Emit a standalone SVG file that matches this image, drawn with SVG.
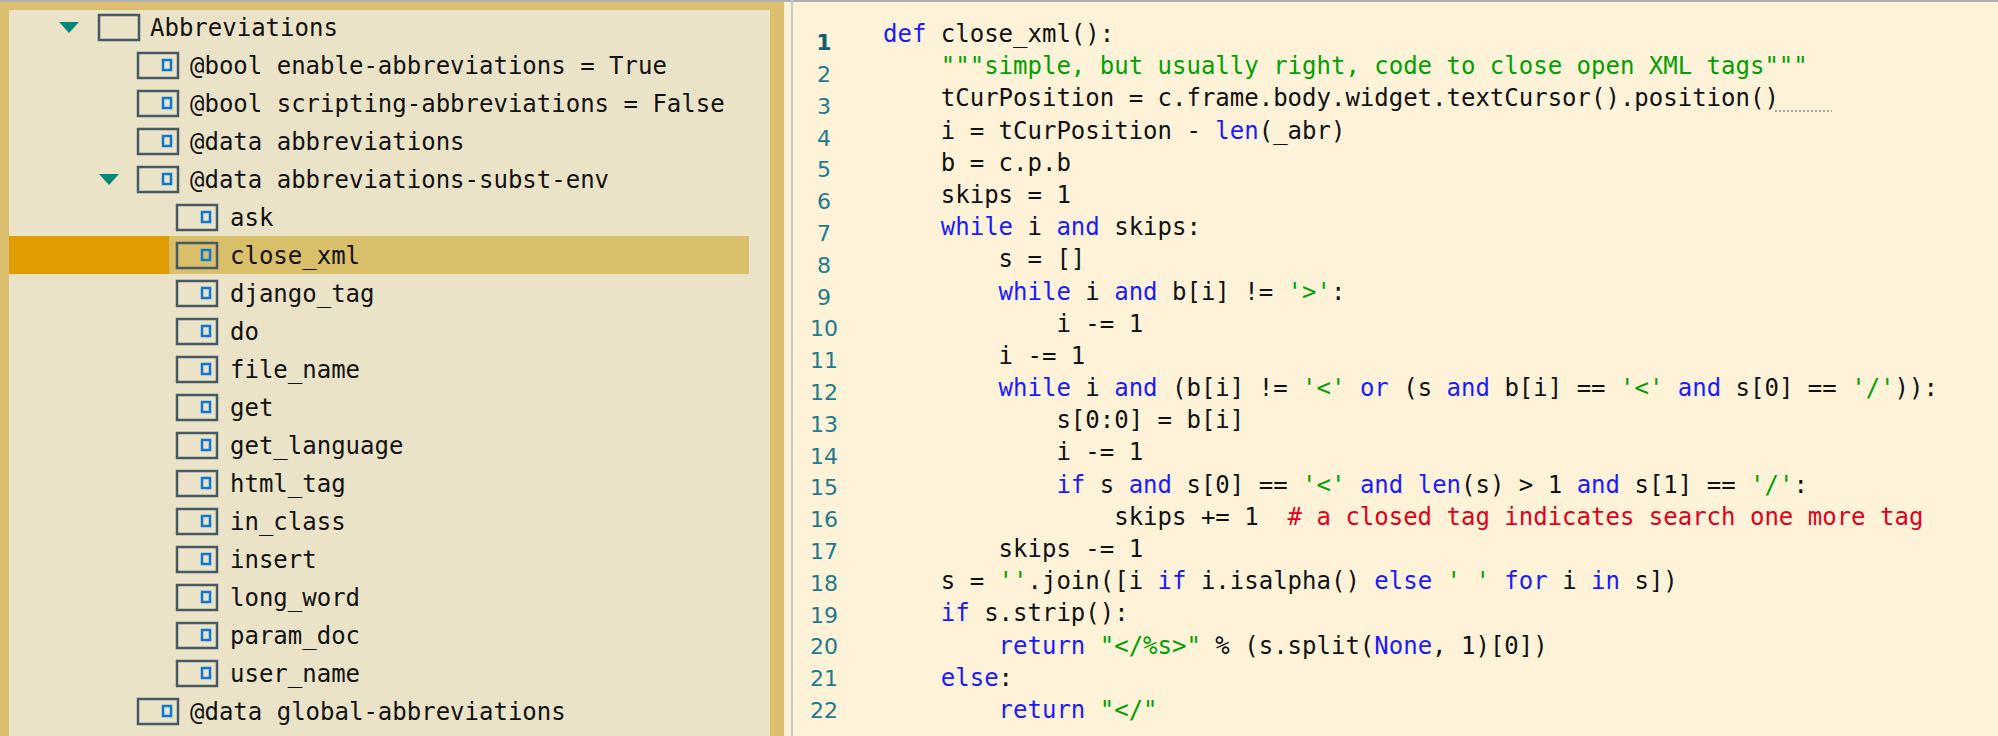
<svg xmlns="http://www.w3.org/2000/svg" width="1998" height="736" viewBox="0 0 1998 736">
<style>
.t{font-family:"DejaVu Sans Mono","Liberation Mono",monospace;font-size:24px;fill:#111}
.c{font-family:"DejaVu Sans Mono","Liberation Mono",monospace;font-size:24px;fill:#111;white-space:pre}
.n{font-family:"DejaVu Sans","Liberation Sans",sans-serif;font-size:22px;fill:#1f7a8c;text-anchor:middle}
.k{fill:#1a1aff}.s{fill:#00a000}.r{fill:#e0001a}
.bx{fill:none;stroke:#455a64;stroke-width:2.5}
.dot{fill:none;stroke:#0a78d4;stroke-width:2.5}
.tri{fill:#00897b}
</style>
<defs>
<g id="icon"><rect class="bx" x="0" y="-12" width="40" height="25"/><rect class="dot" x="25" y="-5" width="8" height="10"/></g>
<g id="icon0"><rect class="bx" x="0" y="-12" width="40" height="25"/></g>
<path id="tr" class="tri" d="M-10,-5 L10,-5 L0,6 Z"/>
</defs>
<rect width="1998" height="736" fill="#fef3d9"/>
<rect x="0" y="0" width="784" height="736" fill="#dcbf6e"/>
<rect x="9" y="10" width="761" height="726" fill="#ebe3c7"/>
<rect x="0" y="0" width="1998" height="2" fill="#b0b0b0"/>
<rect x="791" y="0" width="2" height="736" fill="#c8c8c8"/>
<g id="selection"><rect x="9" y="236" width="160" height="38" fill="#e09c00"/><rect x="169" y="236" width="580" height="38" fill="#d9bf6a"/></g>
<g id="tree">
<g id="n0"><use href="#tr" x="69" y="27"/><use href="#icon0" x="99" y="27"/><text class="t" x="150" y="36">Abbreviations</text></g>
<g id="n1"><use href="#icon" x="138" y="65"/><text class="t" x="190" y="74">@bool enable-abbreviations = True</text></g>
<g id="n2"><use href="#icon" x="138" y="103"/><text class="t" x="190" y="112">@bool scripting-abbreviations = False</text></g>
<g id="n3"><use href="#icon" x="138" y="141"/><text class="t" x="190" y="150">@data abbreviations</text></g>
<g id="n4"><use href="#tr" x="109" y="179"/><use href="#icon" x="138" y="179"/><text class="t" x="190" y="188">@data abbreviations-subst-env</text></g>
<g id="n5"><use href="#icon" x="177" y="217"/><text class="t" x="230" y="226">ask</text></g>
<g id="n6"><use href="#icon" x="177" y="255"/><text class="t" x="230" y="264">close_xml</text></g>
<g id="n7"><use href="#icon" x="177" y="293"/><text class="t" x="230" y="302">django_tag</text></g>
<g id="n8"><use href="#icon" x="177" y="331"/><text class="t" x="230" y="340">do</text></g>
<g id="n9"><use href="#icon" x="177" y="369"/><text class="t" x="230" y="378">file_name</text></g>
<g id="n10"><use href="#icon" x="177" y="407"/><text class="t" x="230" y="416">get</text></g>
<g id="n11"><use href="#icon" x="177" y="445"/><text class="t" x="230" y="454">get_language</text></g>
<g id="n12"><use href="#icon" x="177" y="483"/><text class="t" x="230" y="492">html_tag</text></g>
<g id="n13"><use href="#icon" x="177" y="521"/><text class="t" x="230" y="530">in_class</text></g>
<g id="n14"><use href="#icon" x="177" y="559"/><text class="t" x="230" y="568">insert</text></g>
<g id="n15"><use href="#icon" x="177" y="597"/><text class="t" x="230" y="606">long_word</text></g>
<g id="n16"><use href="#icon" x="177" y="635"/><text class="t" x="230" y="644">param_doc</text></g>
<g id="n17"><use href="#icon" x="177" y="673"/><text class="t" x="230" y="682">user_name</text></g>
<g id="n18"><use href="#icon" x="138" y="711"/><text class="t" x="190" y="720">@data global-abbreviations</text></g>
</g>
<g id="linenumbers">
<text class="n" x="824" y="50" style="font-weight:bold;fill:#135e70">1</text>
<text class="n" x="824" y="82">2</text><text class="n" x="824" y="114">3</text><text class="n" x="824" y="146">4</text>
<text class="n" x="824" y="177">5</text><text class="n" x="824" y="209">6</text><text class="n" x="824" y="241">7</text>
<text class="n" x="824" y="273">8</text><text class="n" x="824" y="305">9</text><text class="n" x="824" y="336">10</text>
<text class="n" x="824" y="368">11</text><text class="n" x="824" y="400">12</text><text class="n" x="824" y="432">13</text>
<text class="n" x="824" y="464">14</text><text class="n" x="824" y="495">15</text><text class="n" x="824" y="527">16</text>
<text class="n" x="824" y="559">17</text><text class="n" x="824" y="591">18</text><text class="n" x="824" y="623">19</text>
<text class="n" x="824" y="654">20</text><text class="n" x="824" y="686">21</text><text class="n" x="824" y="718">22</text>
</g>
<g id="code">
<text class="c" x="883" y="42"><tspan class="k">def</tspan> close_xml():</text>
<text class="c" x="883" y="74">    <tspan class="s">"""simple, but usually right, code to close open XML tags"""</tspan></text>
<text class="c" x="883" y="106">    tCurPosition = c.frame.body.widget.textCursor().position()</text>
<text class="c" x="883" y="139">    i = tCurPosition - <tspan class="k">len</tspan>(_abr)</text>
<text class="c" x="883" y="171">    b = c.p.b</text>
<text class="c" x="883" y="203">    skips = 1</text>
<text class="c" x="883" y="235">    <tspan class="k">while</tspan> i <tspan class="k">and</tspan> skips:</text>
<text class="c" x="883" y="267">        s = []</text>
<text class="c" x="883" y="300">        <tspan class="k">while</tspan> i <tspan class="k">and</tspan> b[i] != <tspan class="s">'&gt;'</tspan>:</text>
<text class="c" x="883" y="332">            i -= 1</text>
<text class="c" x="883" y="364">        i -= 1</text>
<text class="c" x="883" y="396">        <tspan class="k">while</tspan> i <tspan class="k">and</tspan> (b[i] != <tspan class="s">'&lt;'</tspan> <tspan class="k">or</tspan> (s <tspan class="k">and</tspan> b[i] == <tspan class="s">'&lt;'</tspan> <tspan class="k">and</tspan> s[0] == <tspan class="s">'/'</tspan>)):</text>
<text class="c" x="883" y="428">            s[0:0] = b[i]</text>
<text class="c" x="883" y="460">            i -= 1</text>
<text class="c" x="883" y="493">            <tspan class="k">if</tspan> s <tspan class="k">and</tspan> s[0] == <tspan class="s">'&lt;'</tspan> <tspan class="k">and</tspan> <tspan class="k">len</tspan>(s) &gt; 1 <tspan class="k">and</tspan> s[1] == <tspan class="s">'/'</tspan>:</text>
<text class="c" x="883" y="525">                skips += 1  <tspan class="r"># a closed tag indicates search one more tag</tspan></text>
<text class="c" x="883" y="557">        skips -= 1</text>
<text class="c" x="883" y="589">    s = <tspan class="s">''</tspan>.join([i <tspan class="k">if</tspan> i.isalpha() <tspan class="k">else</tspan> <tspan class="s">' '</tspan> <tspan class="k">for</tspan> i <tspan class="k">in</tspan> s])</text>
<text class="c" x="883" y="621">    <tspan class="k">if</tspan> s.strip():</text>
<text class="c" x="883" y="654">        <tspan class="k">return</tspan> <tspan class="s">"&lt;/%s&gt;"</tspan> % (s.split(<tspan class="k">None</tspan>, 1)[0])</text>
<text class="c" x="883" y="686">    <tspan class="k">else</tspan>:</text>
<text class="c" x="883" y="718">        <tspan class="k">return</tspan> <tspan class="s">"&lt;/"</tspan></text>
<line x1="1775" y1="111" x2="1832" y2="111" stroke="#888" stroke-width="1.5" stroke-dasharray="2,2"/>
</g>
</svg>
